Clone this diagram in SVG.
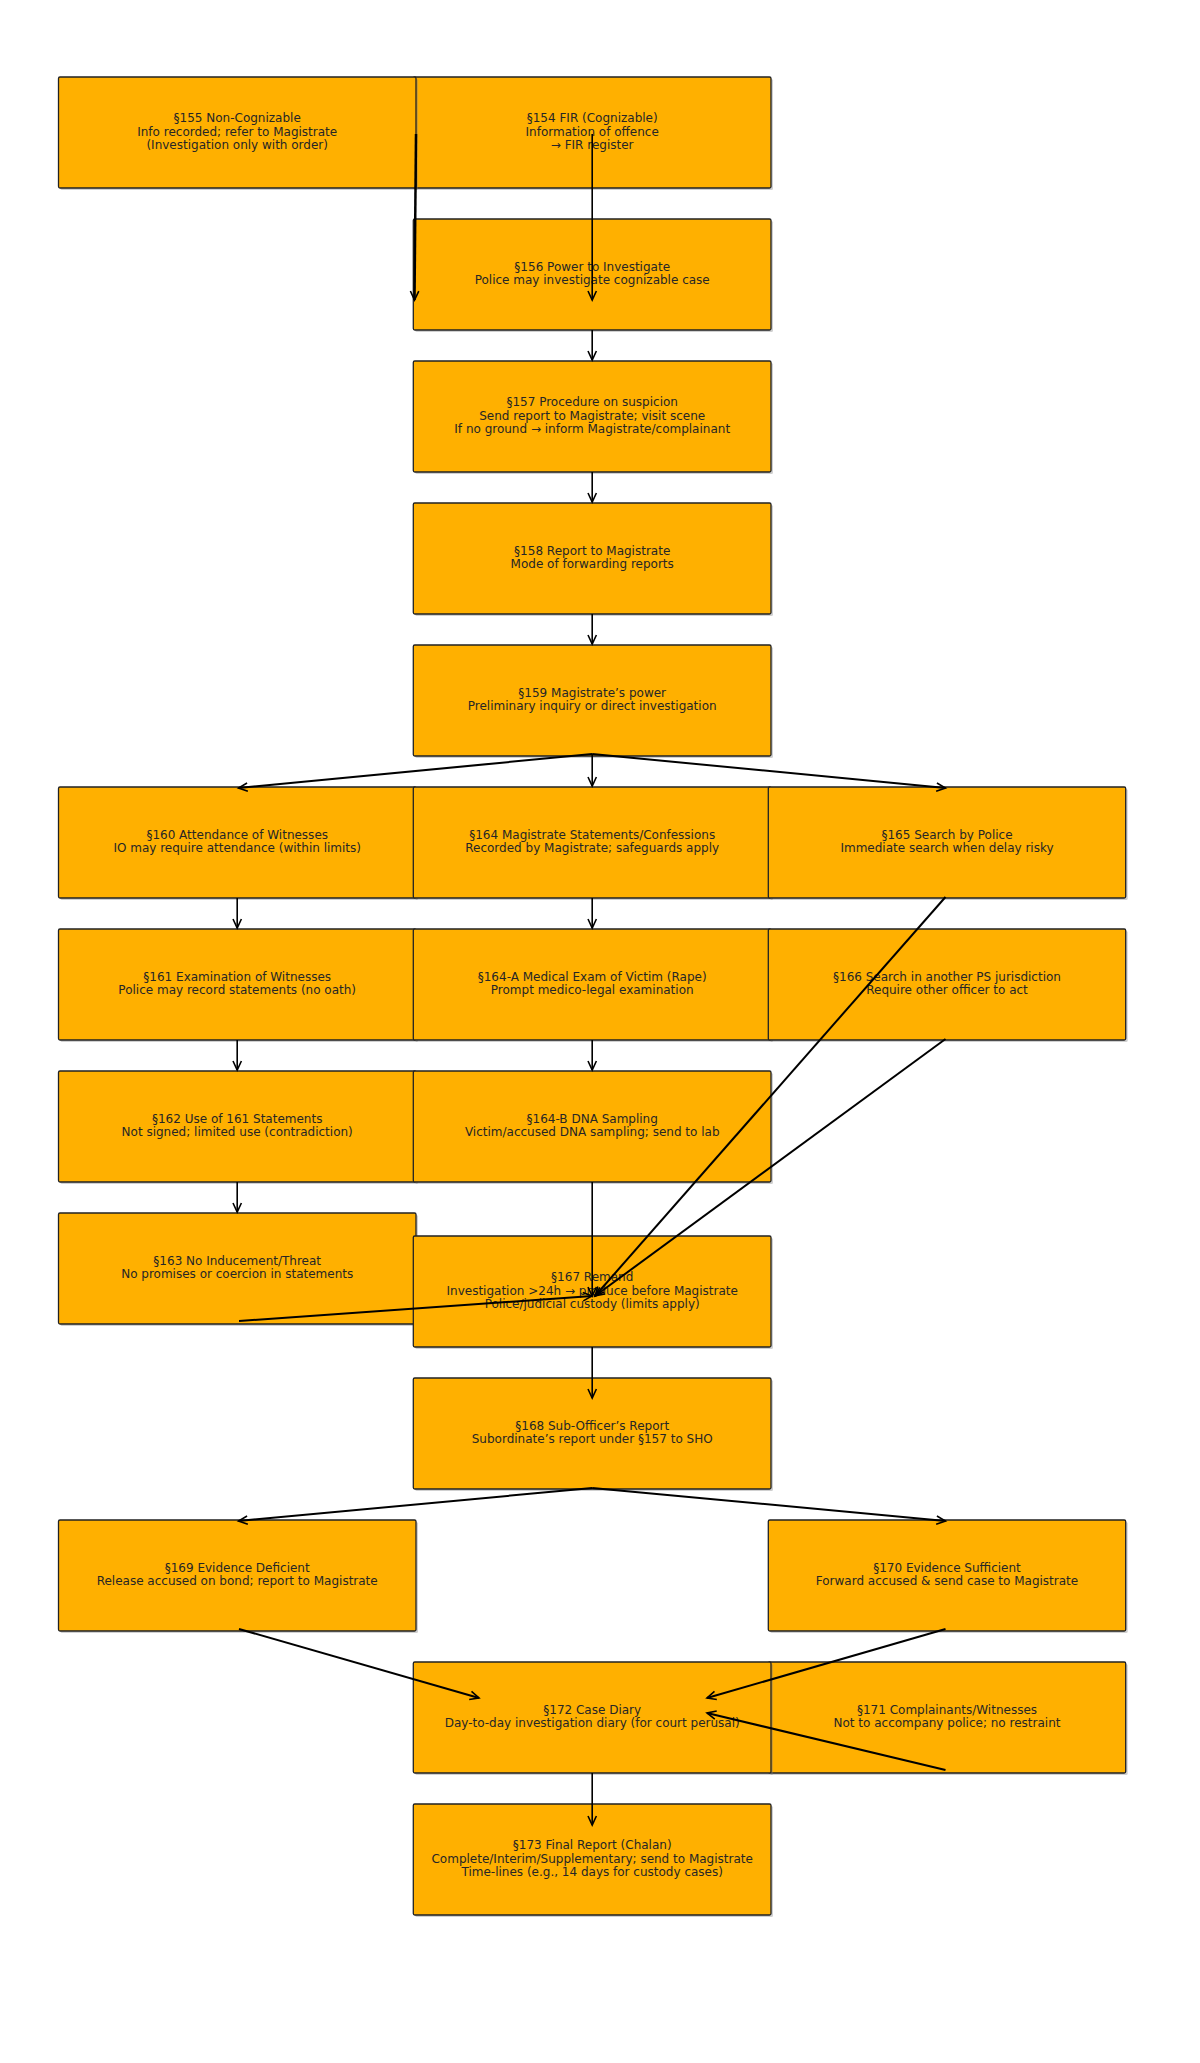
<svg xmlns="http://www.w3.org/2000/svg" width="1200" height="2063" viewBox="0 0 1200 2063">
<style>
.bx{fill:#FFB000;stroke:#222;stroke-width:1.3}
.sh{fill:#777;opacity:0.35}
.t{font-family:"DejaVu Sans",sans-serif;font-size:12px;fill:#262626;text-anchor:middle}
.e{stroke:#000;stroke-width:1.6;fill:none;marker-end:url(#ah)}
</style>
<defs>
<marker id="ah" markerUnits="userSpaceOnUse" markerWidth="14" markerHeight="12" viewBox="-11 -6 13 12" refX="0" refY="0" orient="auto">
<path d="M-9,-4.2 L0,0 L-9,4.2" fill="none" stroke="#000" stroke-width="1.6"/>
</marker>
</defs>
<rect width="1200" height="2063" fill="#fff"/>
<g id="nodes">
<g id="n154"><rect class="sh" x="415.3" y="79" width="357.7" height="111" rx="1.5"/><rect class="bx" x="413.3" y="77" width="357.7" height="111" rx="1.5"/>
<text class="t" x="592.2" y="122.2">§154 FIR (Cognizable)</text><text class="t" x="592.2" y="135.5">Information of offence</text><text class="t" x="592.2" y="148.8">→ FIR register</text></g>
<g id="n155"><rect class="sh" x="60.5" y="79" width="357.5" height="111" rx="1.5"/><rect class="bx" x="58.5" y="77" width="357.5" height="111" rx="1.5"/>
<text class="t" x="237.2" y="122.2">§155 Non-Cognizable</text><text class="t" x="237.2" y="135.5">Info recorded; refer to Magistrate</text><text class="t" x="237.2" y="148.8">(Investigation only with order)</text></g>
<g id="n156"><rect class="sh" x="415.3" y="221" width="357.7" height="111" rx="1.5"/><rect class="bx" x="413.3" y="219" width="357.7" height="111" rx="1.5"/>
<text class="t" x="592.2" y="271">§156 Power to Investigate</text><text class="t" x="592.2" y="284.3">Police may investigate cognizable case</text></g>
<g id="n157"><rect class="sh" x="415.3" y="363" width="357.7" height="111" rx="1.5"/><rect class="bx" x="413.3" y="361" width="357.7" height="111" rx="1.5"/>
<text class="t" x="592.2" y="406.2">§157 Procedure on suspicion</text><text class="t" x="592.2" y="419.5">Send report to Magistrate; visit scene</text><text class="t" x="592.2" y="432.8">If no ground → inform Magistrate/complainant</text></g>
<g id="n158"><rect class="sh" x="415.3" y="505" width="357.7" height="111" rx="1.5"/><rect class="bx" x="413.3" y="503" width="357.7" height="111" rx="1.5"/>
<text class="t" x="592.2" y="555">§158 Report to Magistrate</text><text class="t" x="592.2" y="568.3">Mode of forwarding reports</text></g>
<g id="n159"><rect class="sh" x="415.3" y="647" width="357.7" height="111" rx="1.5"/><rect class="bx" x="413.3" y="645" width="357.7" height="111" rx="1.5"/>
<text class="t" x="592.2" y="697">§159 Magistrate’s power</text><text class="t" x="592.2" y="710.3">Preliminary inquiry or direct investigation</text></g>
<g id="n160"><rect class="sh" x="60.5" y="789" width="357.5" height="111" rx="1.5"/><rect class="bx" x="58.5" y="787" width="357.5" height="111" rx="1.5"/>
<text class="t" x="237.2" y="839">§160 Attendance of Witnesses</text><text class="t" x="237.2" y="852.3">IO may require attendance (within limits)</text></g>
<g id="n164"><rect class="sh" x="415.3" y="789" width="357.7" height="111" rx="1.5"/><rect class="bx" x="413.3" y="787" width="357.7" height="111" rx="1.5"/>
<text class="t" x="592.2" y="839">§164 Magistrate Statements/Confessions</text><text class="t" x="592.2" y="852.3">Recorded by Magistrate; safeguards apply</text></g>
<g id="n165"><rect class="sh" x="770.3" y="789" width="357.4" height="111" rx="1.5"/><rect class="bx" x="768.3" y="787" width="357.4" height="111" rx="1.5"/>
<text class="t" x="947" y="839">§165 Search by Police</text><text class="t" x="947" y="852.3">Immediate search when delay risky</text></g>
<g id="n161"><rect class="sh" x="60.5" y="931" width="357.5" height="111" rx="1.5"/><rect class="bx" x="58.5" y="929" width="357.5" height="111" rx="1.5"/>
<text class="t" x="237.2" y="981">§161 Examination of Witnesses</text><text class="t" x="237.2" y="994.3">Police may record statements (no oath)</text></g>
<g id="n164A"><rect class="sh" x="415.3" y="931" width="357.7" height="111" rx="1.5"/><rect class="bx" x="413.3" y="929" width="357.7" height="111" rx="1.5"/>
<text class="t" x="592.2" y="981">§164-A Medical Exam of Victim (Rape)</text><text class="t" x="592.2" y="994.3">Prompt medico-legal examination</text></g>
<g id="n166"><rect class="sh" x="770.3" y="931" width="357.4" height="111" rx="1.5"/><rect class="bx" x="768.3" y="929" width="357.4" height="111" rx="1.5"/>
<text class="t" x="947" y="981">§166 Search in another PS jurisdiction</text><text class="t" x="947" y="994.3">Require other officer to act</text></g>
<g id="n162"><rect class="sh" x="60.5" y="1073" width="357.5" height="111" rx="1.5"/><rect class="bx" x="58.5" y="1071" width="357.5" height="111" rx="1.5"/>
<text class="t" x="237.2" y="1123">§162 Use of 161 Statements</text><text class="t" x="237.2" y="1136.3">Not signed; limited use (contradiction)</text></g>
<g id="n164B"><rect class="sh" x="415.3" y="1073" width="357.7" height="111" rx="1.5"/><rect class="bx" x="413.3" y="1071" width="357.7" height="111" rx="1.5"/>
<text class="t" x="592.2" y="1123">§164-B DNA Sampling</text><text class="t" x="592.2" y="1136.3">Victim/accused DNA sampling; send to lab</text></g>
<g id="n163"><rect class="sh" x="60.5" y="1215" width="357.5" height="111" rx="1.5"/><rect class="bx" x="58.5" y="1213" width="357.5" height="111" rx="1.5"/>
<text class="t" x="237.2" y="1265">§163 No Inducement/Threat</text><text class="t" x="237.2" y="1278.3">No promises or coercion in statements</text></g>
<g id="n167"><rect class="sh" x="415.3" y="1238" width="357.7" height="111" rx="1.5"/><rect class="bx" x="413.3" y="1236" width="357.7" height="111" rx="1.5"/>
<text class="t" x="592.2" y="1281.2">§167 Remand</text><text class="t" x="592.2" y="1294.5">Investigation &gt;24h → produce before Magistrate</text><text class="t" x="592.2" y="1307.8">Police/judicial custody (limits apply)</text></g>
<g id="n168"><rect class="sh" x="415.3" y="1380" width="357.7" height="111" rx="1.5"/><rect class="bx" x="413.3" y="1378" width="357.7" height="111" rx="1.5"/>
<text class="t" x="592.2" y="1430">§168 Sub-Officer’s Report</text><text class="t" x="592.2" y="1443.3">Subordinate’s report under §157 to SHO</text></g>
<g id="n169"><rect class="sh" x="60.5" y="1522" width="357.5" height="111" rx="1.5"/><rect class="bx" x="58.5" y="1520" width="357.5" height="111" rx="1.5"/>
<text class="t" x="237.2" y="1572">§169 Evidence Deficient</text><text class="t" x="237.2" y="1585.3">Release accused on bond; report to Magistrate</text></g>
<g id="n170"><rect class="sh" x="770.3" y="1522" width="357.4" height="111" rx="1.5"/><rect class="bx" x="768.3" y="1520" width="357.4" height="111" rx="1.5"/>
<text class="t" x="947" y="1572">§170 Evidence Sufficient</text><text class="t" x="947" y="1585.3">Forward accused &amp; send case to Magistrate</text></g>
<g id="n171"><rect class="sh" x="770.3" y="1664" width="357.4" height="111" rx="1.5"/><rect class="bx" x="768.3" y="1662" width="357.4" height="111" rx="1.5"/>
<text class="t" x="947" y="1714">§171 Complainants/Witnesses</text><text class="t" x="947" y="1727.3">Not to accompany police; no restraint</text></g>
<g id="n172"><rect class="sh" x="415.3" y="1664" width="357.7" height="111" rx="1.5"/><rect class="bx" x="413.3" y="1662" width="357.7" height="111" rx="1.5"/>
<text class="t" x="592.2" y="1714">§172 Case Diary</text><text class="t" x="592.2" y="1727.3">Day-to-day investigation diary (for court perusal)</text></g>
<g id="n173"><rect class="sh" x="415.3" y="1806" width="357.7" height="111" rx="1.5"/><rect class="bx" x="413.3" y="1804" width="357.7" height="111" rx="1.5"/>
<text class="t" x="592.2" y="1849.2">§173 Final Report (Chalan)</text><text class="t" x="592.2" y="1862.5">Complete/Interim/Supplementary; send to Magistrate</text><text class="t" x="592.2" y="1875.8">Time-lines (e.g., 14 days for custody cases)</text></g>
</g>
<g id="connectors">
<path class="e" style="stroke-width:2.5" d="M416,134 L414.5,300"/>
<path class="e" d="M592.2,134 L592.2,300"/>
<path class="e" d="M592.2,330 L592.2,360"/>
<path class="e" d="M592.2,472 L592.2,502"/>
<path class="e" d="M592.2,614 L592.2,644"/>
<path class="e" style="stroke-width:2" d="M592.2,754 L238.5,788"/>
<path class="e" d="M592.2,754 L592.2,786"/>
<path class="e" style="stroke-width:2" d="M592.2,754 L945.5,788"/>
<path class="e" d="M237.2,898 L237.2,928"/>
<path class="e" d="M592.2,898 L592.2,928"/>
<path class="e" d="M237.2,1040 L237.2,1070"/>
<path class="e" d="M592.2,1040 L592.2,1070"/>
<path class="e" d="M237.2,1182 L237.2,1212"/>
<path class="e" d="M592.2,1182 L592.2,1296"/>
<path class="e" style="stroke-width:2" d="M945.5,897 L595,1296"/>
<path class="e" style="stroke-width:2" d="M945.5,1039 L595,1296"/>
<path class="e" style="stroke-width:2" d="M239,1321 L592,1296"/>
<path class="e" d="M592.2,1347 L592.2,1398"/>
<path class="e" style="stroke-width:2" d="M592.2,1488 L238.5,1521"/>
<path class="e" style="stroke-width:2" d="M592.2,1488 L945.5,1521"/>
<path class="e" style="stroke-width:2" d="M239,1629 L479,1698"/>
<path class="e" style="stroke-width:2" d="M945.5,1629 L707,1698"/>
<path class="e" style="stroke-width:2" d="M945.5,1770 L707,1713"/>
<path class="e" d="M592.2,1773 L592.2,1825"/>
</g>
</svg>
